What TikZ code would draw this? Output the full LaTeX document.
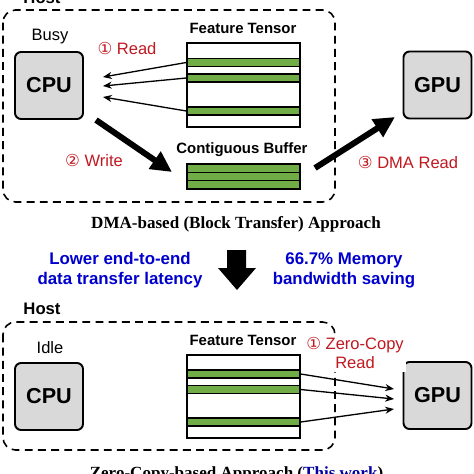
\documentclass[tikz,border=0pt]{standalone}
\usepackage{fontspec}
\setmainfont{Liberation Serif}
\setsansfont{Liberation Sans}
\newfontfamily\circfont{DejaVu Sans}
\usepackage{xcolor}
\usetikzlibrary{arrows.meta}
\definecolor{chipgray}{RGB}{217,217,217}
\definecolor{rowgreen}{RGB}{112,173,71}
\definecolor{stepred}{RGB}{192,24,32}
\definecolor{gainblue}{RGB}{0,0,204}
\definecolor{workblue}{RGB}{0,0,160}

\begin{document}
\begin{tikzpicture}[x=0.02cm, y=-0.02cm,
  hostbox/.style={draw, line width=0.9pt, dash pattern=on 4.5pt off 3pt, rounded corners=0.25cm},
  chip/.style={draw, line width=1.1pt, fill=chipgray, rounded corners=0.12cm,
    minimum width=1.36cm, minimum height=1.34cm, inner sep=0pt,
    font=\sffamily\bfseries\fontsize{12.3}{14}\selectfont},
  tensor/.style={draw, line width=0.8pt, fill=white, minimum width=2.26cm, inner sep=0pt},
  stripe/.style={draw, line width=0.8pt, fill=rowgreen, minimum width=2.26cm,
    minimum height=0.165cm, inner sep=0pt},
  lbl/.style={font=\sffamily\bfseries\fontsize{8.5}{10}\selectfont},
  note/.style={font=\sffamily\fontsize{9.4}{11.3}\selectfont},
  redtxt/.style={note, text=stepred, align=center},
  gain/.style={font=\sffamily\bfseries\fontsize{9.6}{11.3}\selectfont, text=gainblue, align=center},
  caption/.style={font=\bfseries\fontsize{9.7}{11}\selectfont, anchor=base},
  readarrow/.style={-{Stealth[length=5pt, width=4pt]}, line width=0.75pt},
  bigarrow/.style={-{Triangle[length=0.42cm, width=0.4cm]}, line width=3.4pt},
]
  \useasboundingbox (0,0) rectangle (474,474);

  % DMA-based approach: host box
  \draw[hostbox] (3,10) rectangle (335,202);
  \node[lbl, font=\sffamily\bfseries\fontsize{9.5}{11}\selectfont, anchor=base] (hostA) at (42,3) {Host};
  % CPU and GPU
  \node[note] (busy) at (50,37) {Busy};
  \node[chip] (cpuA) at (49,85.5) {CPU};
  \node[chip] (gpuA) at (437.5,85) {GPU};
  % Feature tensor with scattered rows
  \node[lbl] (tensorAlbl) at (243,28) {Feature Tensor};
  \node[tensor, minimum height=1.68cm] (tensorA) at (243.5,85) {};
  \node[stripe] (rowA1) at (243.5,62.5) {};
  \node[stripe] (rowA2) at (243.5,78) {};
  \node[stripe] (rowA3) at (243.5,111) {};
  % Contiguous buffer
  \node[lbl] (bufferlbl) at (242,150) {Contiguous Buffer};
  \node[stripe] (bufA1) at (243.5,168.2) {};
  \node[stripe] (bufA2) at (243.5,176.5) {};
  \node[stripe] (bufA3) at (243.5,184.8) {};
  % Step 1: CPU reads the rows
  \coordinate (readA1) at (103,77);
  \coordinate (readA2) at (103,86);
  \coordinate (readA3) at (103,97);
  \draw[readarrow] (rowA1.west) -- (readA1);
  \draw[readarrow] (rowA2.west) -- (readA2);
  \draw[readarrow] (rowA3.west) -- (readA3);
  \node[redtxt] (readlbl) at (127,48) {{\circfont ①} Read};
  % Step 2: CPU writes into the buffer
  \coordinate (writefrom) at (96,120);
  \coordinate (writeto) at (172,172);
  \draw[bigarrow] (writefrom) -- (writeto);
  \node[redtxt] (writelbl) at (94,160) {{\circfont ②} Write};
  % Step 3: GPU reads the buffer by DMA
  \coordinate (dmafrom) at (315,168);
  \coordinate (dmato) at (395,117);
  \draw[bigarrow] (dmafrom) -- (dmato);
  \node[redtxt] (dmalbl) at (408,162) {{\circfont ③} DMA Read};
  \node[caption] (capA) at (236,228) {DMA-based (Block Transfer) Approach};

  % Gains
  \node[gain] (latency) at (120,270) {Lower end-to-end\\data transfer latency};
  \node[gain] (saving) at (344,270) {66.7\% Memory\\bandwidth saving};
  \fill (227,250) -- (246,250) -- (246,268) -- (256,268) -- (237,290)
    -- (218,268) -- (227,268) -- cycle;

  % Zero-copy approach: host box
  \draw[hostbox] (3,322) rectangle (335,450);
  \node[lbl, font=\sffamily\bfseries\fontsize{9.5}{11}\selectfont] (hostB) at (42,309) {Host};
  \node[note] (idle) at (50,348) {Idle};
  \node[chip] (cpuB) at (49,396.5) {CPU};
  \node[chip] (gpuB) at (437.5,395.5) {GPU};
  % Feature tensor read in place
  \node[lbl] (tensorBlbl) at (243,340) {Feature Tensor};
  \node[tensor, minimum height=1.66cm] (tensorB) at (243.5,396.5) {};
  \node[stripe] (rowB1) at (243.5,374) {};
  \node[stripe] (rowB2) at (243.5,389.5) {};
  \node[stripe] (rowB3) at (243.5,422) {};
  \node[redtxt, fill=white, inner sep=1.5pt] (zclbl) at (355,353) {{\circfont ①} Zero-Copy\\Read};
  \coordinate (zcA) at (394,389);
  \coordinate (zcB) at (394,399);
  \coordinate (zcC) at (394,409);
  \draw[readarrow] (rowB1.east) -- (zcA);
  \draw[readarrow] (rowB2.east) -- (zcB);
  \draw[readarrow] (rowB3.east) -- (zcC);
  \node[caption] (capB) at (236.5,478) {Zero-Copy-based Approach (\textcolor{workblue}{This work})};
\end{tikzpicture}
\end{document}
